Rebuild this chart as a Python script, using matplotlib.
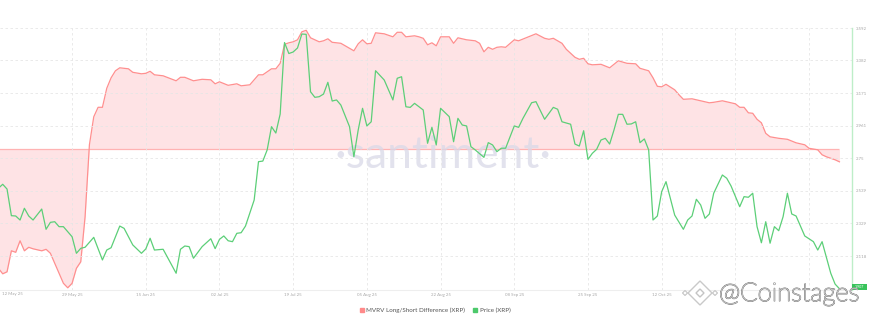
import pandas as pd
import matplotlib
matplotlib.use('Agg')
import matplotlib.pyplot as plt
import matplotlib.dates as mdates
import matplotlib.patheffects as pe
from matplotlib.patches import Patch, Polygon, Rectangle

# ---- data ----
START = '2025-05-12'

price_days = [0, 1, 2, 3, 4, 5, 6, 7, 8, 10,
              11, 12, 13, 14, 15, 17, 18, 19, 20, 22,
              24, 25, 26, 28, 29, 31, 33, 34, 35, 36,
              38, 41, 42, 43, 44, 45, 47, 49, 50, 51,
              52, 53, 54, 55, 56, 57, 59, 60, 61, 62,
              63, 64, 65, 66, 67, 68, 69, 70, 71, 72,
              73, 74, 75, 76, 77, 78, 79, 81, 82, 83,
              84, 85, 86, 87, 89, 91, 92, 93, 94, 95,
              96, 98, 99, 100, 101, 102, 104, 105, 106, 107,
              108, 109, 110, 112, 113, 114, 115, 116, 117, 119,
              120, 121, 123, 124, 126, 128, 129, 130, 132, 133,
              134, 135, 136, 137, 138, 139, 140, 141, 142, 143,
              144, 145, 146, 147, 148, 149, 150, 151, 152, 153,
              154, 156, 158, 159, 160, 161, 162, 163, 164, 165,
              167, 168, 169, 171, 172, 173, 174, 175, 176, 177,
              178, 179, 180, 181, 182, 183, 184, 186, 188, 189,
              190, 192, 193, 194]
price_vals = [2.556, 2.582, 2.551, 2.379, 2.377, 2.351, 2.427, 2.377, 2.351, 2.422,
              2.291, 2.336, 2.340, 2.308, 2.308, 2.243, 2.136, 2.168, 2.175, 2.239,
              2.093, 2.157, 2.172, 2.312, 2.297, 2.190, 2.136, 2.164, 2.233, 2.157,
              2.162, 2.007, 2.162, 2.183, 2.179, 2.104, 2.179, 2.230, 2.166, 2.226,
              2.248, 2.217, 2.211, 2.265, 2.269, 2.312, 2.480, 2.728, 2.732, 2.804,
              2.954, 2.913, 3.036, 3.498, 3.427, 3.437, 3.463, 3.553, 3.551, 3.180,
              3.144, 3.148, 3.165, 3.241, 3.120, 3.127, 3.094, 2.954, 2.760, 2.933,
              3.073, 2.959, 2.986, 3.316, 3.256, 3.127, 3.267, 3.277, 3.083, 3.079,
              3.105, 3.062, 2.847, 2.950, 2.836, 3.073, 3.019, 2.857, 3.008, 2.965,
              2.959, 2.825, 2.804, 2.756, 2.851, 2.836, 2.793, 2.815, 2.815, 2.959,
              2.950, 3.008, 3.109, 3.116, 3.002, 3.079, 3.067, 2.986, 2.970, 2.842,
              2.829, 2.928, 2.743, 2.782, 2.808, 2.868, 2.879, 2.842, 2.933, 3.034,
              3.034, 2.970, 2.972, 2.986, 2.851, 2.875, 2.804, 2.351, 2.377, 2.534,
              2.599, 2.383, 2.291, 2.351, 2.377, 2.485, 2.448, 2.362, 2.390, 2.524,
              2.642, 2.621, 2.571, 2.437, 2.502, 2.498, 2.524, 2.308, 2.204, 2.340,
              2.201, 2.308, 2.282, 2.372, 2.524, 2.390, 2.377, 2.248, 2.211, 2.157,
              2.211, 2.007, 1.937, 1.907]

mvrv_days = [0, 1, 2, 3, 4, 5, 6, 7, 8, 10,
             11, 12, 13, 14, 15, 16, 17, 18, 19, 20,
             21, 22, 23, 24, 25, 26, 27, 28, 30, 31,
             33, 34, 35, 36, 38, 41, 42, 43, 45, 47,
             49, 50, 51, 53, 55, 56, 58, 60, 61, 63,
             64, 65, 66, 67, 68, 69, 70, 71, 72, 74,
             75, 76, 77, 78, 79, 82, 83, 84, 85, 86,
             87, 89, 91, 92, 93, 94, 96, 97, 98, 99,
             100, 101, 102, 104, 105, 106, 108, 110, 111, 112,
             113, 114, 115, 116, 117, 119, 120, 122, 124, 126,
             127, 128, 130, 131, 133, 134, 135, 136, 137, 139,
             141, 143, 145, 147, 148, 150, 151, 152, 153, 154,
             156, 157, 158, 160, 162, 164, 165, 167, 170, 171,
             172, 173, 174, 175, 176, 177, 178, 180, 182, 184,
             186, 187, 189, 190, 191, 192, 193, 194]
mvrv_vals = [-23.8, -24.9, -24.5, -20.3, -20.6, -18.3, -20.3, -19.6, -19.9, -20.3,
             -20.0, -20.8, -22.8, -24.8, -26.8, -27.7, -26.8, -23.8, -22.5, -13.5,
             0.9, 6.5, 8.4, 8.4, 12.2, 14.3, 15.7, 16.3, 16.1, 15.4,
             15.1, 15.2, 15.6, 14.9, 14.7, 13.7, 14.4, 14.4, 13.7, 14.0,
             13.9, 13.1, 13.5, 12.8, 13.1, 12.7, 12.9, 14.9, 14.9, 16.1,
             16.1, 17.2, 21.0, 21.3, 21.5, 21.9, 23.5, 23.8, 22.3, 21.5,
             21.7, 22.1, 21.4, 21.3, 21.2, 19.7, 21.1, 21.9, 21.1, 21.2,
             23.3, 23.1, 22.5, 23.4, 23.4, 22.5, 22.7, 22.5, 22.2, 20.9,
             21.3, 20.7, 22.5, 22.5, 21.2, 22.3, 21.9, 21.7, 21.2, 19.5,
             20.4, 20.0, 20.4, 20.5, 20.4, 21.9, 21.7, 22.4, 23.1, 22.2,
             22.0, 22.2, 21.2, 20.0, 18.4, 18.0, 18.2, 17.1, 16.9, 17.0,
             16.3, 17.7, 17.2, 17.1, 16.2, 15.7, 14.3, 12.6, 12.5, 13.0,
             11.9, 10.9, 10.0, 10.1, 9.7, 9.3, 9.4, 9.7, 9.1, 8.4,
             8.4, 7.3, 7.2, 6.0, 5.3, 3.2, 2.5, 2.2, 2.0, 1.3,
             0.9, 0.2, -0.1, -1.1, -1.5, -1.8, -2.1, -2.5]

# the last two ticks sit under the repost watermark, so their labels are not visible
tick_dates = ['2025-05-29', '2025-06-15', '2025-07-02', '2025-07-19', '2025-08-05',
              '2025-08-22', '2025-09-08', '2025-09-25', '2025-10-12', '2025-10-29',
              '2025-11-15']
tick_labels = ['29 May 25', '15 Jun 25', '02 Jul 25', '19 Jul 25', '05 Aug 25',
               '22 Aug 25', '08 Sep 25', '25 Sep 25', '12 Oct 25', '', '']
first_label = '12 May 25'
price_ticks = [2.118, 2.329, 2.539, 2.75, 2.961, 3.171, 3.382, 3.592]
price_tick_labels = ['2.118', '2.329', '2.539', '2.75', '2.961', '3.171', '3.382', '3.592']
last_price_label = '1.907'

RED = '#ff8f8f'
RED_FILL = '#fee3e5'
GREEN = '#5ccf78'
GRID = '#e6e6e6'
TXT = '#a8a8a8'

plt.rcParams['font.family'] = ['Lato', 'DejaVu Sans']

start = pd.Timestamp(START)
price_x = start + pd.to_timedelta(price_days, unit='D')
mvrv_x = start + pd.to_timedelta(mvrv_days, unit='D')

fig = plt.figure(figsize=(8.76, 3.19), dpi=100)
ax = fig.add_axes([0, 29 / 319, 852 / 876, 262 / 319])
ax2 = ax.twinx()

# MVRV long/short difference: filled towards zero
ax.fill_between(mvrv_x, mvrv_vals, 0, color=RED_FILL, lw=0, zorder=1)
ax.hlines(0, mvrv_x[0], mvrv_x[-1], color='#ffb3b3', lw=0.9, zorder=2)
ax.plot(mvrv_x, mvrv_vals, color=RED, lw=0.9, zorder=3)
ax.set_ylim(-28.14, 24.26)
ax.set_xlim(start + pd.Timedelta(hours=9), start + pd.Timedelta(days=196.9))

# santiment watermark
ax.text(0.52, 0.515, '\u00b7santiment\u00b7', transform=ax.transAxes, ha='center',
        va='center', fontsize=32, color='#d9d9e8', alpha=0.75, zorder=2.2)

# price
ax2.plot(price_x, price_vals, color=GREEN, lw=0.9, zorder=3)
ax2.set_ylim(1.8987, 3.592)
ax2.set_yticks(price_ticks)
ax2.set_yticklabels(price_tick_labels)
ax2.tick_params(axis='y', length=0, labelsize=3.2, pad=3, labelcolor=TXT)
ax2.grid(axis='y', color=GRID, lw=0.6, ls=(0, (3, 3)))

ax.set_xticks(pd.to_datetime(tick_dates))
ax.set_xticklabels(tick_labels)
ax.tick_params(axis='x', length=0, labelsize=3.2, pad=2.5, labelcolor=TXT)
ax.set_yticks([])
ax.set_axisbelow(False)
ax.grid(axis='x', color=GRID, lw=0.6, ls=(0, (3, 3)), zorder=2.5)

for a in (ax, ax2):
    for s in a.spines.values():
        s.set_visible(False)
ax2.spines['right'].set_visible(True)
ax2.spines['right'].set_color('#bdeec8')
ax2.spines['right'].set_linewidth(1.0)
ax.spines['bottom'].set_visible(True)
ax.spines['bottom'].set_color('#eeeeee')
ax.spines['bottom'].set_linewidth(0.8)

# legend
handles = [Patch(color='#ff8a8a'), Patch(color='#4cc96b')]
fig.legend(handles, ['MVRV Long/Short Difference (XRP)', 'Price (XRP)'],
           loc='center', bbox_to_anchor=(0.497, 0.026), ncol=2, frameon=False,
           fontsize=4.5, handlelength=0.6, handleheight=0.6, handletextpad=0.4,
           columnspacing=1.3, labelcolor='#555555')

# overlay in pixel coordinates for labels, value box and repost watermark
ov = fig.add_axes([0, 0, 1, 1])
ov.set_xlim(0, 876)
ov.set_ylim(319, 0)
ov.axis('off')
ov.patch.set_visible(False)

ov.text(2, 294.5, first_label, fontsize=3.2, color=TXT, ha='left', va='center')

ov.add_patch(Rectangle((852, 283.8), 15, 6, color='#38c35b', lw=0))
ov.text(859.5, 286.9, last_price_label, fontsize=2.6, color='white', ha='center', va='center')

# Binance-like logo
logo_edge = '#c4c4c4'
cx, cy = 700, 293
ov.add_patch(Polygon([(cx, cy - 12), (cx + 12, cy), (cx, cy + 12), (cx - 12, cy)],
                     closed=True, fc='white', ec=logo_edge, lw=1.0, alpha=0.9))
ov.add_patch(Polygon([(cx, cy - 4), (cx + 4, cy), (cx, cy + 4), (cx - 4, cy)],
                     closed=True, fc='white', ec=logo_edge, lw=1.0))
for dx in (-15, 15):
    ov.add_patch(Polygon([(cx + dx, cy - 2.5), (cx + dx + 2.5, cy), (cx + dx, cy + 2.5),
                          (cx + dx - 2.5, cy)], closed=True, fc='white', ec=logo_edge, lw=0.8))

ov.text(719, 294, '@Coinstages', fontsize=18.5, fontweight='light', color='white',
        ha='left', va='center',
        path_effects=[pe.withStroke(linewidth=1.0, foreground='#9a9a9a')])

fig.savefig('out.png', dpi=100, facecolor='white')
